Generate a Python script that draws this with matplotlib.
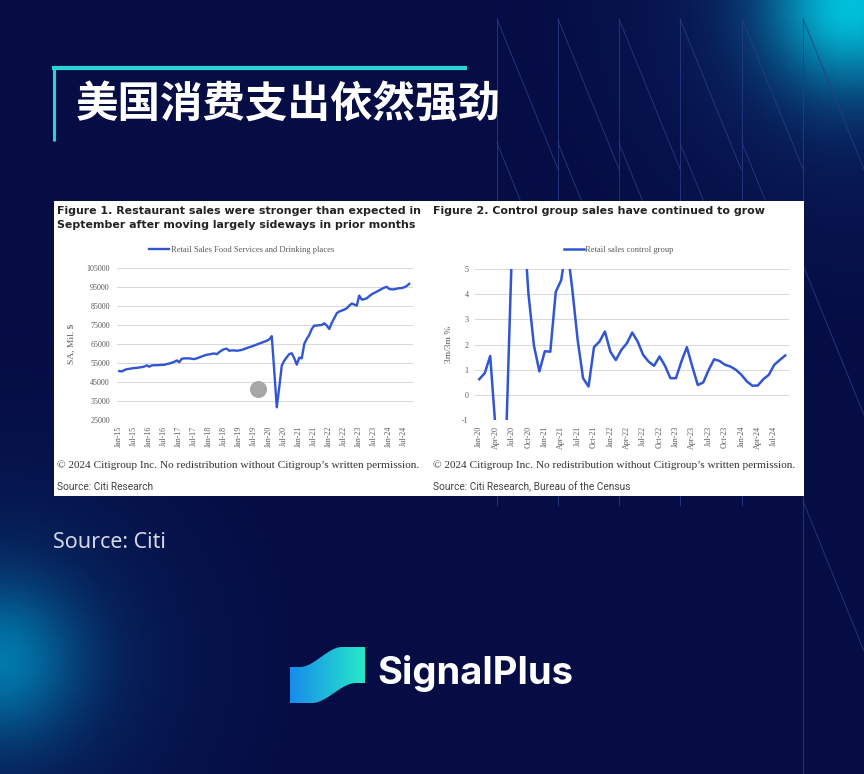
import numpy as np
import matplotlib
matplotlib.use('Agg')
import matplotlib.pyplot as plt
from matplotlib.patches import Rectangle, Polygon

W, H = 864, 774

# ---- data: Figure 1, restaurant sales (SA, Mil. $), monthly Jan-15 .. Sep-24
food_sales = [
    50800, 50600, 51300, 51800, 52000, 52200, 52400, 52500, 52700, 52900, 53200, 53800,  # 2015
    53100, 53800, 53900, 53900, 54000, 54100, 54100, 54500, 54800, 55200, 55700, 56400,  # 2016
    55500, 57300, 57500, 57500, 57500, 57300, 57100, 57500, 58000, 58500, 59000, 59400,  # 2017
    59600, 59900, 60100, 59700, 60800, 61700, 62400, 62600, 61500, 61700, 61700, 61500,  # 2018
    61700, 62000, 62400, 62900, 63400, 63800, 64300, 64800, 65300, 65800, 66300, 66800,  # 2019
    67500, 69200, 50700, 31700, 42300, 53700, 56300, 58100, 59800, 60200, 57600, 54200,  # 2020
    57900, 57500, 65100, 67800, 69900, 73000, 74800, 74800, 75000, 75100, 76000, 74800,  # 2021
    73000, 76200, 78700, 81300, 82200, 82700, 83200, 83900, 85300, 86400, 85900, 85300,  # 2022
    90600, 88500, 88700, 89200, 90300, 91300, 92000, 92700, 93400, 94100, 94800, 95200,  # 2023
    94100, 93900, 93900, 94300, 94500, 94600, 95000, 95700, 96800,                       # 2024
]
food_xticklabels = ['Jan-15', 'Jul-15', 'Jan-16', 'Jul-16', 'Jan-17', 'Jul-17', 'Jan-18', 'Jul-18',
                    'Jan-19', 'Jul-19', 'Jan-20', 'Jul-20', 'Jan-21', 'Jul-21', 'Jan-22', 'Jul-22',
                    'Jan-23', 'Jul-23', 'Jan-24', 'Jul-24']
food_yticks = [25000, 35000, 45000, 55000, 65000, 75000, 85000, 95000, 105000]
dot_month = [55.5]
dot_value = [41300]

# ---- data: Figure 2, control group 3m/3m %, monthly Jan-20 .. Sep-24
control_3m3m = [
    0.63, 0.87, 1.55, -1.4, -8.0, -1.1, 6.0, 9.0, 7.3, 4.02, 1.97, 0.94,   # 2020
    1.74, 1.72, 4.09, 4.56, 6.0, 4.25, 2.2, 0.67, 0.34, 1.9, 2.12, 2.52,    # 2021
    1.72, 1.39, 1.79, 2.05, 2.48, 2.12, 1.59, 1.33, 1.16, 1.53, 1.16, 0.67, # 2022
    0.67, 1.33, 1.90, 1.13, 0.40, 0.50, 1.0, 1.42, 1.35, 1.20, 1.13, 1.0,   # 2023
    0.80, 0.54, 0.37, 0.38, 0.63, 0.80, 1.20, 1.39, 1.57,                   # 2024
]
control_xticklabels = ['Jan-20', 'Apr-20', 'Jul-20', 'Oct-20', 'Jan-21', 'Apr-21', 'Jul-21', 'Oct-21',
                       'Jan-22', 'Apr-22', 'Jul-22', 'Oct-22', 'Jan-23', 'Apr-23', 'Jul-23', 'Oct-23',
                       'Jan-24', 'Apr-24', 'Jul-24']
control_yticks = [-1, 0, 1, 2, 3, 4, 5]

NAVY = np.array([6, 12, 68]) / 255
CYAN = '#2bd3d6'
LINE_BLUE = '#3156d3'
GREY_TXT = '#595959'
SERIF = ['Liberation Serif', 'DejaVu Serif']


def fx(px):
    return px / W


def fy(py):
    return 1 - py / H


def background(bg):
    yy, xx = np.mgrid[0:H, 0:W]
    img = np.ones((H, W, 3)) * NAVY

    for cx, cy, r, color, s in [(864, 0, 200, (18, 70, 140), 0.45),
                                (850, 5, 80, (0, 200, 225), 0.95),
                                (0, 660, 180, (10, 70, 130), 0.45),
                                (0, 660, 75, (0, 140, 190), 0.8)]:
        g = s * np.exp(-((xx - cx) ** 2 + (yy - cy) ** 2) / r ** 2)
        c = np.array(color) / 255
        img = img * (1 - g[..., None]) + c * g[..., None]
    bg.imshow(img, extent=[0, W, H, 0], aspect='auto', zorder=0)

    # thin decorative lines
    cols = [497, 558, 619, 680, 742, 803]
    lc = dict(color='#2a3c86', lw=0.7, alpha=0.8, zorder=1)
    for i, x0 in enumerate(cols):
        bottom = H if i == len(cols) - 1 else 505
        bg.plot([x0, x0], [19, bottom], **lc)
        starts = [19, 265, 501] if i == len(cols) - 1 else [19, 143]
        for y0 in starts:
            bg.plot([x0, x0 + 61], [y0, y0 + 150], **lc)


def logo(bg):
    xs = np.linspace(290, 365, 120)

    def step(x, a, b):
        t = np.clip((x - a) / (b - a), 0, 1)
        return t * t * (3 - 2 * t)

    top = 667 - 20 * step(xs, 300, 342)
    bot = 703 - 20 * step(xs, 312, 356)
    pts = list(zip(xs, top)) + list(zip(xs[::-1], bot[::-1]))
    poly = Polygon(pts, closed=True, facecolor='none', edgecolor='none')
    bg.add_patch(poly)
    gx = np.linspace(0, 1, 100)
    grad = np.zeros((2, 100, 3))
    c0 = np.array([24, 140, 235]) / 255
    c1 = np.array([38, 232, 200]) / 255
    grad[:] = c0 + (c1 - c0) * gx[:, None]
    im = bg.imshow(grad, extent=[290, 365, 705, 645], aspect='auto', zorder=5)
    im.set_clip_path(poly)
    bg.text(377, 673, 'SignalPlus', fontsize=27.5, fontweight='bold', color='white',
            family=['Inter', 'DejaVu Sans'], va='center', ha='left', zorder=5)


def panel_texts(bg):
    bg.add_patch(Rectangle((54, 201), 750, 295, facecolor='white', edgecolor='none', zorder=3))
    title_kw = dict(fontsize=7.9, fontweight='bold', color='#222222', va='center', ha='left', zorder=4)
    bg.text(57, 211, 'Figure 1. Restaurant sales were stronger than expected in', **title_kw)
    bg.text(57, 225, 'September after moving largely sideways in prior months', **title_kw)
    bg.text(433, 211, 'Figure 2. Control group sales have continued to grow', **title_kw)
    note = '\u00a9 2024 Citigroup Inc. No redistribution without Citigroup\u2019s written permission.'
    bg.text(57, 465, note, fontsize=8.1, family=SERIF, color='#333333', va='center', zorder=4)
    bg.text(433, 465, note, fontsize=8.1, family=SERIF, color='#333333', va='center', zorder=4)
    bg.text(57, 487, 'Source: Citi Research', fontsize=7.3, family=['Roboto', 'DejaVu Sans'],
            color='#444444', va='center', zorder=4)
    bg.text(433, 487, 'Source: Citi Research, Bureau of the Census', fontsize=7.3,
            family=['Roboto', 'DejaVu Sans'], color='#444444', va='center', zorder=4)


def style_axes(ax, fig, legend_x):
    for s in ax.spines.values():
        s.set_visible(False)
    ax.set_facecolor('white')
    ax.grid(axis='y', color='#d9d9d9', lw=0.75)
    ax.set_axisbelow(True)
    ax.tick_params(length=0, labelsize=5.8, labelcolor=GREY_TXT)
    ax.tick_params(axis='y', pad=5)
    ax.tick_params(axis='x', pad=4, labelsize=5.8)
    for t in ax.get_xticklabels() + ax.get_yticklabels():
        t.set_family(SERIF)
    ax.legend(loc='center', bbox_to_anchor=(fx(legend_x), fy(250)), bbox_transform=fig.transFigure,
              frameon=False, prop={'family': SERIF, 'size': 6.1}, labelcolor=GREY_TXT,
              handlelength=2.4, handletextpad=0.15)


def main():
    fig = plt.figure(figsize=(W / 100, H / 100), dpi=100)
    bg = fig.add_axes([0, 0, 1, 1])
    bg.set_xlim(0, W)
    bg.set_ylim(H, 0)
    bg.axis('off')

    background(bg)

    # title block
    bg.plot([52, 467], [68, 68], color=CYAN, lw=3.0, solid_capstyle='butt', zorder=2)
    bg.plot([53.5, 53.5], [66, 141], color=CYAN, lw=2.2, solid_capstyle='butt', zorder=2)
    bg.text(76, 104, '美国消费支出依然强劲', fontsize=30.6, fontweight='bold', color='white',
            family=['Noto Sans CJK SC', 'DejaVu Sans'], va='center', ha='left', zorder=2)

    panel_texts(bg)

    bg.text(53, 543, 'Source: Citi', fontsize=15.5, color='#d3d7e6',
            family=['Noto Sans', 'DejaVu Sans'], va='center', ha='left', zorder=2)
    logo(bg)

    # Figure 1
    ax1 = fig.add_axes([fx(116.8), fy(420), (413 - 116.8) / W, (420 - 268.3) / H])
    months1 = np.arange(len(food_sales))
    ax1.plot(months1, food_sales, color=LINE_BLUE, lw=1.7,
             label='Retail Sales Food Services and Drinking places')
    ax1.scatter(dot_month, dot_value, s=150, color='#a6a6a6', zorder=3, linewidths=0)
    ax1.set_xlim(-1, 117.5)
    ax1.set_ylim(food_yticks[0], food_yticks[-1])
    ax1.set_yticks(food_yticks)
    ax1.set_yticklabels([str(v) for v in food_yticks])
    ax1.set_xticks(np.arange(0, 6 * len(food_xticklabels), 6))
    ax1.set_xticklabels(food_xticklabels, rotation=90)
    ax1.set_ylabel('SA, Mil. $', family=SERIF, fontsize=6.8, color=GREY_TXT)
    ax1.yaxis.set_label_coords(-0.138, 0.5)
    style_axes(ax1, fig, 241.5)

    # Figure 2
    ax2 = fig.add_axes([fx(475.3), fy(420.3), (789 - 475.3) / W, (420.3 - 269) / H])
    months2 = np.arange(len(control_3m3m))
    ax2.plot(months2, control_3m3m, color=LINE_BLUE, lw=1.8, label='Retail sales control group')
    ax2.set_xlim(-0.73, 56.7)
    ax2.set_ylim(control_yticks[0], control_yticks[-1])
    ax2.set_yticks(control_yticks)
    ax2.set_yticklabels([str(v) for v in control_yticks])
    ax2.set_xticks(np.arange(0, 3 * len(control_xticklabels), 3))
    ax2.set_xticklabels(control_xticklabels, rotation=90)
    ax2.set_ylabel('3m/3m %', family=SERIF, fontsize=6.8, color=GREY_TXT)
    ax2.yaxis.set_label_coords(-0.072, 0.5)
    style_axes(ax2, fig, 618.5)

    fig.savefig('out.png', dpi=100, facecolor=tuple(NAVY))


if __name__ == '__main__':
    main()
